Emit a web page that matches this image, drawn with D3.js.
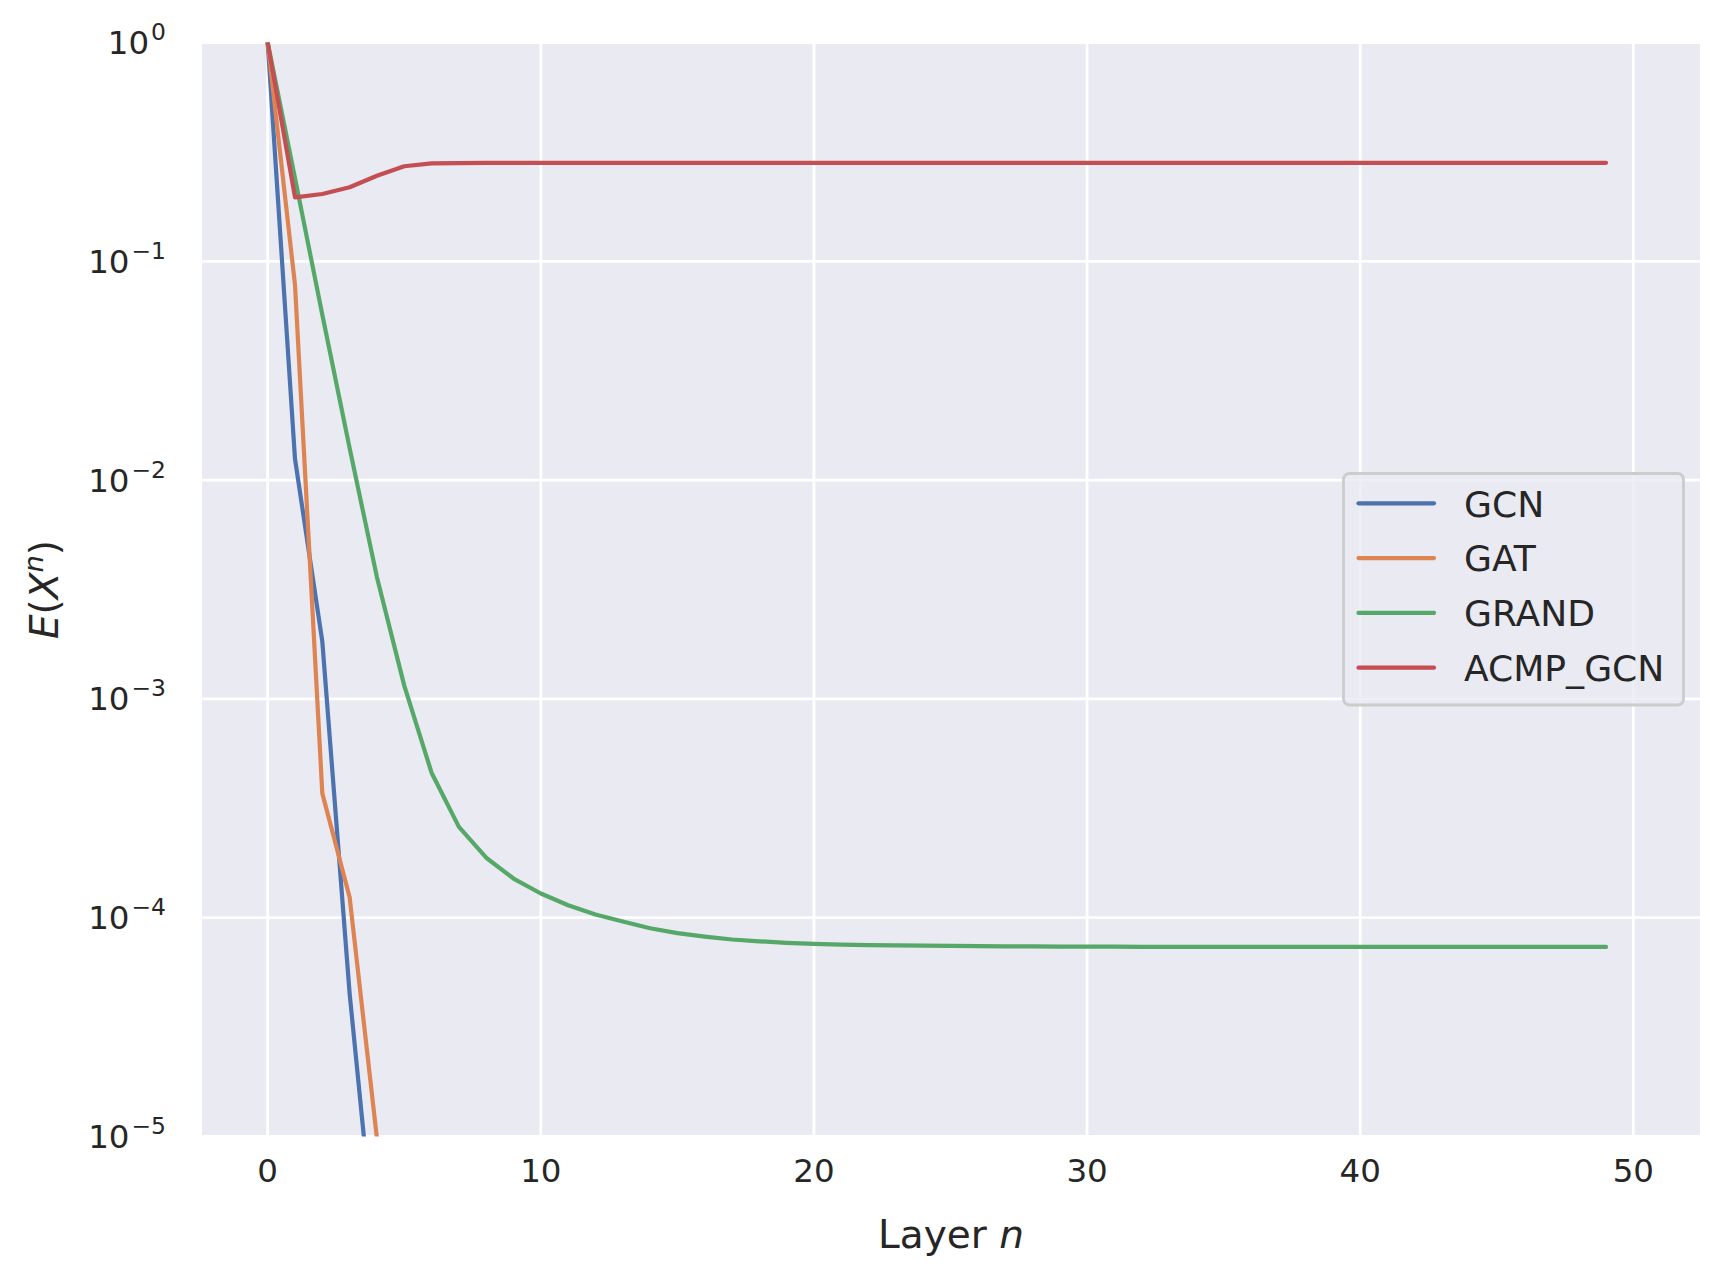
<!DOCTYPE html>
<html>
<head>
<meta charset="utf-8">
<script src="https://cdn.jsdelivr.net/npm/d3@7"></script>
<style>
  html, body { margin: 0; padding: 0; background: #ffffff; }
  svg { display: block; font-family: "DejaVu Sans", sans-serif; }
</style>
</head>
<body>
<svg id="chart" width="1718" height="1270"></svg>
<script>
// ---- data ----
const seriesNames = ["GCN", "GAT", "GRAND", "ACMP_GCN"];
const seriesColors = ["#4C72B0", "#DD8452", "#55A868", "#C44E52"];

// values per layer n = 0, 1, 2, ...
const gcnValues = [1.0, 0.0125, 0.00183, 4.5e-5, 2.5e-6];
const gatValues = [1.0, 0.078, 3.7e-4, 1.24e-4, 9.8e-6];
const grandValues = [
  1.0, 0.24, 0.057, 0.0140, 0.0036, 0.00115, 4.6e-4, 2.6e-4, 1.88e-4, 1.51e-4,
  1.29e-4, 1.14e-4, 1.035e-4, 9.6e-5, 8.95e-5, 8.5e-5, 8.2e-5, 7.95e-5, 7.8e-5, 7.68e-5,
  7.6e-5, 7.54e-5, 7.5e-5, 7.47e-5, 7.45e-5, 7.43e-5, 7.41e-5, 7.4e-5, 7.39e-5, 7.38e-5,
  7.37e-5, 7.37e-5, 7.36e-5, 7.36e-5, 7.36e-5, 7.35e-5, 7.35e-5, 7.35e-5, 7.35e-5, 7.35e-5,
  7.35e-5, 7.35e-5, 7.35e-5, 7.35e-5, 7.35e-5, 7.35e-5, 7.35e-5, 7.35e-5, 7.35e-5, 7.35e-5
];
const acmpValues = [
  1.0, 0.196, 0.203, 0.218, 0.246, 0.272, 0.280, 0.281, 0.282, 0.282,
  0.282, 0.282, 0.282, 0.282, 0.282, 0.282, 0.282, 0.282, 0.282, 0.282,
  0.282, 0.282, 0.282, 0.282, 0.282, 0.282, 0.282, 0.282, 0.282, 0.282,
  0.282, 0.282, 0.282, 0.282, 0.282, 0.282, 0.282, 0.282, 0.282, 0.282,
  0.282, 0.282, 0.282, 0.282, 0.282, 0.282, 0.282, 0.282, 0.282, 0.282
];
const xTicks = [0, 10, 20, 30, 40, 50];
const yTicks = [1, 1e-1, 1e-2, 1e-3, 1e-4, 1e-5];
const yTickExponents = ["0", "\u22121", "\u22122", "\u22123", "\u22124", "\u22125"];
const xDomain = [-2.405, 52.44];
const yDomain = [1e-5, 1];

// ---- layout ----
const plot = { left: 202, right: 1700, top: 42.5, bottom: 1136.5 };
const svg = d3.select("#chart");

const x = d3.scaleLinear().domain(xDomain).range([plot.left, plot.right]);
const y = d3.scaleLog().domain(yDomain).range([plot.bottom, plot.top]);

svg.append("rect")
  .attr("x", plot.left).attr("y", plot.top)
  .attr("width", plot.right - plot.left).attr("height", plot.bottom - plot.top)
  .attr("fill", "#EAEAF2");

// grid
const gridW = 2.8;
svg.append("g").selectAll("line").data(xTicks).join("line")
  .attr("x1", d => x(d)).attr("x2", d => x(d))
  .attr("y1", plot.top).attr("y2", plot.bottom)
  .attr("stroke", "#ffffff").attr("stroke-width", gridW);
svg.append("g").selectAll("line").data(yTicks).join("line")
  .attr("x1", plot.left).attr("x2", plot.right)
  .attr("y1", d => y(d)).attr("y2", d => y(d))
  .attr("stroke", "#ffffff").attr("stroke-width", gridW);

// clip
svg.append("clipPath").attr("id", "plotclip")
  .append("rect")
  .attr("x", plot.left).attr("y", plot.top)
  .attr("width", plot.right - plot.left).attr("height", plot.bottom - plot.top);

const allSeries = [gcnValues, gatValues, grandValues, acmpValues];
const line = d3.line().x((d, i) => x(i)).y(d => y(d));

svg.append("g").attr("clip-path", "url(#plotclip)")
  .selectAll("path").data(allSeries).join("path")
  .attr("d", d => line(d))
  .attr("fill", "none")
  .attr("stroke", (d, i) => seriesColors[i])
  .attr("stroke-width", 4.2)
  .attr("stroke-linecap", "round")
  .attr("stroke-linejoin", "round");

// x tick labels
const tickFont = 32.5;
svg.append("g").selectAll("text").data(xTicks).join("text")
  .attr("x", d => x(d)).attr("y", 1182)
  .attr("text-anchor", "middle")
  .attr("font-size", tickFont)
  .attr("fill", "#262626")
  .text(d => d);

// y tick labels with superscripts
const yl = svg.append("g").selectAll("text").data(yTicks).join("text")
  .attr("x", 166).attr("y", d => y(d) + 11.5)
  .attr("text-anchor", "end")
  .attr("font-size", tickFont)
  .attr("fill", "#262626");
yl.append("tspan").text("10");
yl.append("tspan")
  .attr("dx", 2)
  .attr("dy", -14)
  .attr("font-size", tickFont * 0.72)
  .text((d, i) => yTickExponents[i]);

// axis labels
const labelFont = 39;
const xl = svg.append("text")
  .attr("x", (plot.left + plot.right) / 2).attr("y", 1248)
  .attr("text-anchor", "middle")
  .attr("font-size", labelFont)
  .attr("fill", "#262626");
xl.append("tspan").text("Layer ");
xl.append("tspan").attr("font-style", "italic").text("n");

const ylab = svg.append("text")
  .attr("transform", `translate(58, ${(plot.top + plot.bottom) / 2}) rotate(-90)`)
  .attr("text-anchor", "middle")
  .attr("font-size", labelFont)
  .attr("fill", "#262626");
ylab.append("tspan").attr("font-style", "italic").text("E");
ylab.append("tspan").text("(");
ylab.append("tspan").attr("font-style", "italic").text("X");
ylab.append("tspan").attr("font-style", "italic").attr("dy", -15).attr("font-size", labelFont * 0.7).text("n");
ylab.append("tspan").attr("dy", 15).text(")");

// legend
const legend = svg.append("g");
legend.append("rect")
  .attr("x", 1343.5).attr("y", 473.5)
  .attr("width", 340).attr("height", 231.5)
  .attr("rx", 6).attr("ry", 6)
  .attr("fill", "#EAEAF2").attr("fill-opacity", 0.8)
  .attr("stroke", "#CCCCCC").attr("stroke-width", 2.8);
const rowY = d3.scaleLinear().domain([0, 3]).range([503.3, 667.7]);
const rows = legend.selectAll("g.row").data(seriesNames).join("g").attr("class", "row");
rows.append("line")
  .attr("x1", 1358.5).attr("x2", 1434)
  .attr("y1", (d, i) => rowY(i)).attr("y2", (d, i) => rowY(i))
  .attr("stroke", (d, i) => seriesColors[i])
  .attr("stroke-width", 4.2)
  .attr("stroke-linecap", "round");
rows.append("text")
  .attr("x", 1464).attr("y", (d, i) => rowY(i) + 13.2)
  .attr("font-size", 36.1)
  .attr("fill", "#262626")
  .text(d => d);
</script>
</body>
</html>
